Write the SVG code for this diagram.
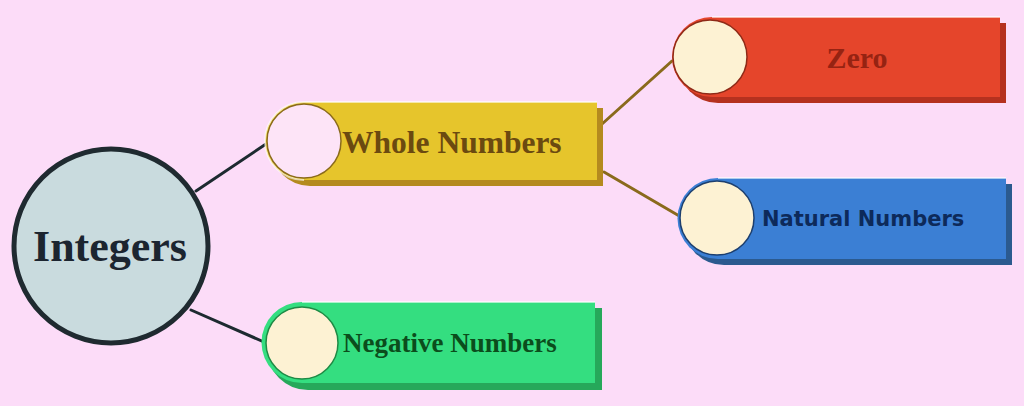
<svg xmlns="http://www.w3.org/2000/svg" width="1024" height="406" viewBox="0 0 1024 406">
<style>
.serif{font-family:"Liberation Serif","Times New Roman",serif;font-weight:bold}
.sans{font-family:"DejaVu Sans","Liberation Sans",sans-serif;font-weight:bold}
.edge{fill:none;stroke:#ffffff;stroke-opacity:0.6;stroke-width:2}
.inner{stroke-width:1.5}
</style>
<rect width="1024" height="406" fill="#fcdcf8"/>
<g id="connectors" stroke-linecap="round">
<line x1="196" y1="191" x2="266" y2="144" stroke="#1d2a30" stroke-width="3"/>
<line x1="191" y1="310" x2="264" y2="342" stroke="#1d2a30" stroke-width="3"/>
<line x1="602" y1="124" x2="672" y2="61" stroke="#8a6a1c" stroke-width="3"/>
<line x1="604" y1="172" x2="681" y2="217" stroke="#8a6a1c" stroke-width="3"/>
</g>
<g id="integers">
<circle cx="111" cy="246" r="97" fill="#c9dbde" stroke="#1f2a30" stroke-width="5"/>
<text x="110" y="261" class="serif" font-size="44" fill="#1c2530" text-anchor="middle">Integers</text>
</g>
<g id="whole-numbers">
<path d="M310 108 H603 V186 H310 A39 39 0 0 1 310 108 Z" fill="#b48a1f"/>
<path d="M304 102 H597 V180 H304 A39 39 0 0 1 304 102 Z" fill="#e6c52c"/>
<path class="edge" d="M304 102 H597 M304 180 A39 39 0 0 1 304 102"/>
<circle class="inner" cx="304" cy="141" r="37" fill="#fde4f7" stroke="#8a6a1c"/>
<text x="342" y="153" class="serif" font-size="31.5" fill="#6b4a10">Whole Numbers</text>
</g>
<g id="zero">
<path d="M718 23 H1006 V103 H718 A40 40 0 0 1 718 23 Z" fill="#b5311f"/>
<path d="M712 17 H1000 V97 H712 A40 40 0 0 1 712 17 Z" fill="#e5452b"/>
<path class="edge" d="M712 17 H1000"/>
<circle class="inner" cx="710" cy="57" r="37" fill="#fdf2d3" stroke="#8e2a17"/>
<text x="857" y="68" class="serif" font-size="30" fill="#962312" text-anchor="middle">Zero</text>
</g>
<g id="natural-numbers">
<path d="M724 184 H1012 V265 H724 A40.5 40.5 0 0 1 724 184 Z" fill="#2b5a8f"/>
<path d="M718 178 H1006 V259 H718 A40.5 40.5 0 0 1 718 178 Z" fill="#3b7fd4"/>
<path class="edge" d="M718 178 H1006"/>
<circle class="inner" cx="717" cy="218" r="37" fill="#fdf2d3" stroke="#1d3f6e"/>
<text x="762" y="226" class="sans" font-size="21" fill="#0d2a5a">Natural Numbers</text>
</g>
<g id="negative-numbers">
<path d="M308 308 H602 V390 H308 A41 41 0 0 1 308 308 Z" fill="#26a85a"/>
<path d="M302 302 H595 V383 H302 A40.5 40.5 0 0 1 302 302 Z" fill="#34de80"/>
<path class="edge" d="M302 302 H595"/>
<circle class="inner" cx="302" cy="343" r="36" fill="#fdf2d3" stroke="#1f8a45"/>
<text x="343" y="352" class="serif" font-size="27" fill="#0b4d1c">Negative Numbers</text>
</g>
</svg>
